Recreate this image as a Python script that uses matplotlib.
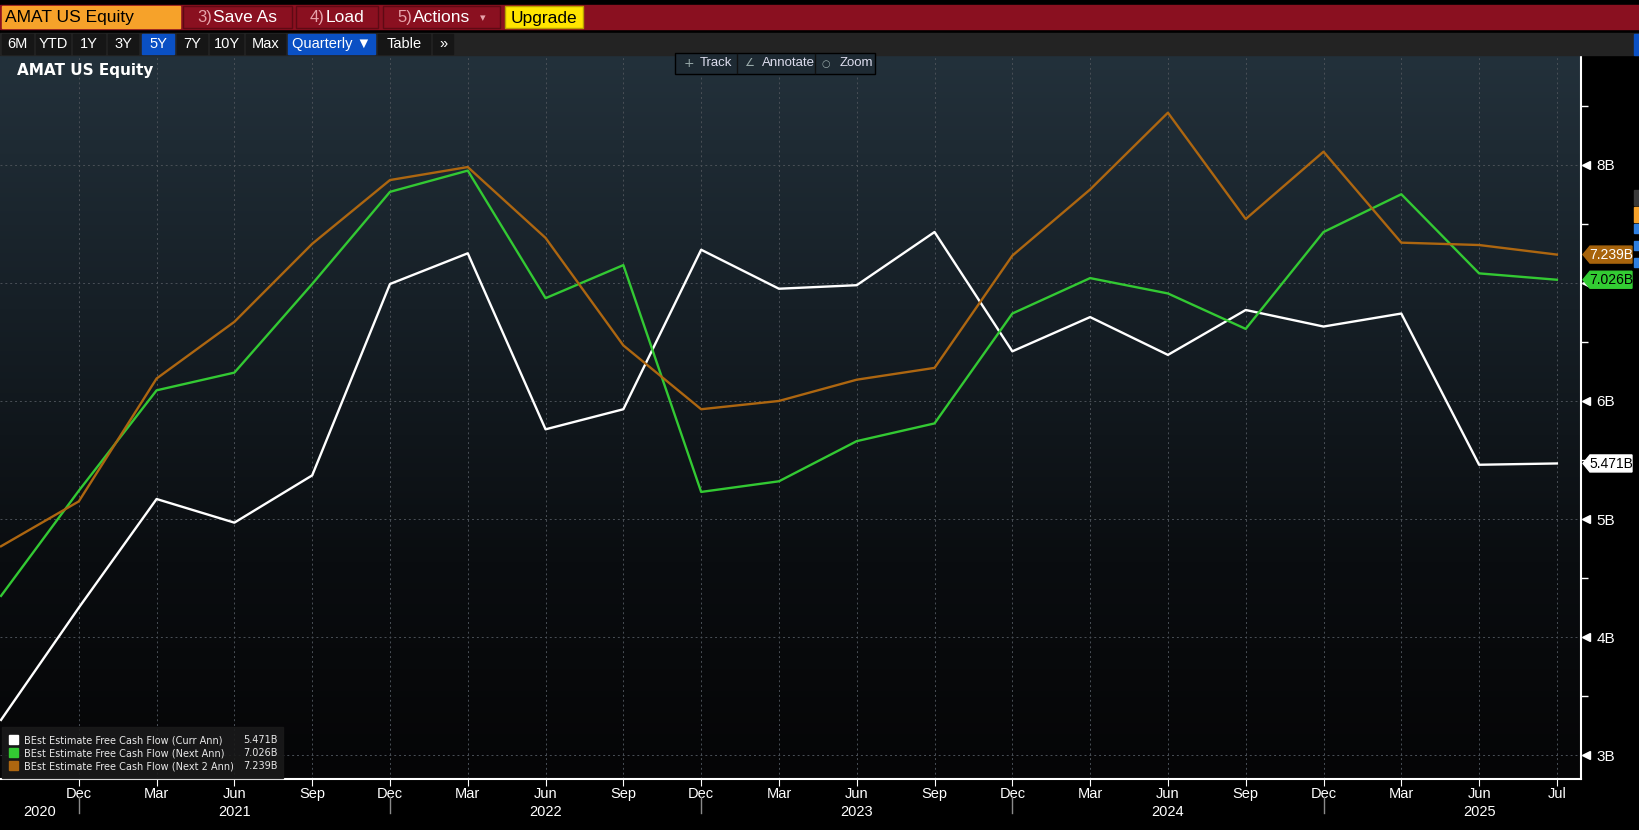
import numpy as np
import matplotlib
matplotlib.use('Agg')
import matplotlib.pyplot as plt
from matplotlib.colors import LinearSegmentedColormap
from matplotlib.patches import Rectangle, Polygon
from matplotlib.lines import Line2D
from matplotlib import transforms as mtransforms

plt.rcParams['font.family'] = ['Liberation Sans', 'DejaVu Sans']

# quarterly points, Sep 2020 .. Jul 2025 (equally spaced like the terminal)
quarters = ['Sep', 'Dec', 'Mar', 'Jun', 'Sep', 'Dec', 'Mar', 'Jun', 'Sep', 'Dec', 'Mar',
            'Jun', 'Sep', 'Dec', 'Mar', 'Jun', 'Sep', 'Dec', 'Mar', 'Jun', 'Jul']
years = ['2020', '2021', '2022', '2023', '2024', '2025']
year_pos = [0.5, 3, 7, 11, 15, 19]
year_breaks = [1, 5, 9, 13, 17]

# BEst Estimate Free Cash Flow, in billions
curr_ann = [3.30, 4.25, 5.17, 4.97, 5.37, 6.99, 7.25, 5.76, 5.93, 7.28, 6.95,
            6.98, 7.43, 6.42, 6.71, 6.39, 6.77, 6.63, 6.74, 5.46, 5.471]
next_ann = [4.35, 5.24, 6.09, 6.24, 6.99, 7.77, 7.95, 6.87, 7.15, 5.23, 5.32,
            5.66, 5.81, 6.74, 7.04, 6.91, 6.61, 7.43, 7.75, 7.08, 7.026]
next2_ann = [4.77, 5.15, 6.19, 6.67, 7.33, 7.87, 7.98, 7.38, 6.47, 5.93, 6.00,
             6.18, 6.28, 7.23, 7.79, 8.44, 7.54, 8.11, 7.34, 7.32, 7.239]

series = [curr_ann, next_ann, next2_ann]
series_names = ['BEst Estimate Free Cash Flow (Curr Ann)',
                'BEst Estimate Free Cash Flow (Next Ann)',
                'BEst Estimate Free Cash Flow (Next 2 Ann)']
last_labels = ['5.471B', '7.026B', '7.239B']
line_colors = ['#ffffff', '#33c933', '#ad6610']
tag_colors = ['#ffffff', '#33cc33', '#a8640c']
tag_text = ['black', 'black', 'white']

y_ticks = [3, 4, 5, 6, 7, 8]
y_labels = ['3B', '4B', '5B', '6B', '', '8B']

W, H = 1639, 830
fig = plt.figure(figsize=(W / 100, H / 100), dpi=100, facecolor='black')
ax = fig.add_axes([0, 1 - 779 / H, 1581 / W, (779 - 56) / H])

xlim = (-0.013, 20.31)
ylim = (2.80, 8.92)

# background gradient
cmap = LinearSegmentedColormap.from_list(
    'bg', [(0, '#050506'), (0.3, '#0a0d10'), (0.65, '#161f26'), (1, '#23313b')])
grad = np.linspace(1, 0, 256)[:, None]
ax.imshow(grad, extent=[xlim[0], xlim[1], ylim[0], ylim[1]], origin='upper',
          aspect='auto', cmap=cmap, vmin=0, vmax=1, zorder=0)

x = np.arange(len(quarters))
for vals, c in zip(series, line_colors):
    ax.plot(x, vals, color=c, lw=1.7, zorder=3)

ax.set_xlim(*xlim)
ax.set_ylim(*ylim)

for s in ['top', 'left']:
    ax.spines[s].set_visible(False)
ax.spines['right'].set_color('white')
ax.spines['bottom'].set_color('white')
ax.spines['right'].set_linewidth(1.5)
ax.spines['bottom'].set_linewidth(1.5)

ax.set_xticks(x[1:])
ax.set_xticklabels(quarters[1:])
ax.tick_params(axis='x', colors='white', length=5, labelsize=10.5, pad=1)

ax.yaxis.tick_right()
ax.set_yticks(y_ticks)
ax.set_yticklabels(y_labels)
ax.set_yticks([3.5, 4.5, 5.5, 6.5, 7.5, 8.5], minor=True)
ax.tick_params(axis='y', which='major', colors='white', length=0, labelsize=11, pad=11)
ax.tick_params(axis='y', which='minor', colors='white', length=5, width=1)

ax.grid(True, which='major', color='#4a5057', linestyle=(0, (2, 3)), lw=0.7, zorder=1)

# little triangles on the y axis
tri = mtransforms.offset_copy(ax.get_yaxis_transform(), fig=fig, x=5, y=0, units='dots')
ax.plot([1] * len(y_ticks), y_ticks, marker='<', ms=5.5, color='white', ls='none',
        transform=tri, clip_on=False, zorder=5)

# year labels and separators
xt = ax.get_xaxis_transform()
for p, yr in zip(year_pos, years):
    ax.text(p, -0.046, yr, transform=xt, ha='center', va='center', color='white',
            fontsize=10.5)
for b in year_breaks:
    ax.add_line(Line2D([b, b], [-0.025, -0.047], transform=xt, color='#8a8a8a', lw=1,
                       clip_on=False))

# overlay in pixel coordinates for the terminal chrome
ov = fig.add_axes([0, 0, 1, 1], zorder=5)
ov.set_xlim(0, W)
ov.set_ylim(H, 0)
ov.axis('off')


def to_px(xv, yv):
    d = ax.transData.transform((xv, yv))
    return d[0], H - d[1]


# top red bar
ov.add_patch(Rectangle((0, 5), W, 24, color='#8a1020'))
ov.add_patch(Rectangle((2, 6), 178, 22, color='#f6a22a'))
ov.text(5, 17.5, 'AMAT US Equity', color='black', fontsize=12.5, va='center')
menu = [(183, 292, '3)', 'Save As'), (296, 378, '4)', 'Load'), (383, 500, '5)', 'Actions')]
for x0, x1, num, lab in menu:
    ov.add_patch(Rectangle((x0, 6), x1 - x0, 22, fc='#8a1020', ec='#5e0a14', lw=1))
    ov.text(x0 + 14, 17.5, num, color='#e6a3aa', fontsize=12, va='center')
    ov.text(x0 + 30, 17.5, lab, color='white', fontsize=12.5, va='center')
ov.text(480, 18, '\u25be', color='#e6a3aa', fontsize=8, va='center', family='DejaVu Sans')
ov.add_patch(Rectangle((505, 6), 78, 22, fc='#ffe500', ec='#b8a000', lw=1))
ov.text(544, 18, 'Upgrade', color='black', fontsize=12.5, va='center', ha='center')

# range buttons
ov.add_patch(Rectangle((0, 33), W, 22, color='#232323'))
buttons = [(2, 33, '6M', False), (36, 70, 'YTD', False), (73, 105, '1Y', False),
           (108, 138, '3Y', False), (142, 174, '5Y', True), (177, 207, '7Y', False),
           (210, 243, '10Y', False), (246, 285, 'Max', False),
           (288, 375, 'Quarterly \u25bc', True), (378, 430, 'Table', False),
           (433, 453, '\u00bb', False)]
for x0, x1, lab, act in buttons:
    ov.add_patch(Rectangle((x0, 34), x1 - x0, 20, color='#0a50c4' if act else '#161616'))
    ov.text((x0 + x1) / 2, 44, lab, color='white', fontsize=10.5, ha='center', va='center')
ov.add_patch(Rectangle((1634, 34), 5, 21, color='#0a50c4'))

# chart title and toolbar
ov.text(17, 70, 'AMAT US Equity', color='white', fontsize=11, weight='bold',
        va='center', family='DejaVu Sans')
ov.add_patch(Rectangle((675, 53), 200, 21, fc='#1e2a33', ec='black', lw=1))
for sx in [737, 815]:
    ov.plot([sx, sx], [54, 73], color='#111', lw=1)
ov.text(684, 63.5, '+', color='#9aa', fontsize=9, va='center', family='DejaVu Sans')
ov.text(700, 63.5, 'Track', color='#dde', fontsize=9.5, va='center')
ov.text(744, 63.5, '\u2220', color='#9aa', fontsize=8, va='center', family='DejaVu Sans')
ov.text(762, 63.5, 'Annotate', color='#dde', fontsize=9.5, va='center')
ov.text(821, 63.5, '\u25cb', color='#9aa', fontsize=7, va='center', family='DejaVu Sans')
ov.text(840, 63.5, 'Zoom', color='#dde', fontsize=9.5, va='center')

# last value tags on the right axis
for vals, lab, fc, tc in zip(series, last_labels, tag_colors, tag_text):
    _, py = to_px(x[-1], vals[-1])
    ov.add_patch(Polygon([(1583, py), (1590, py - 8.5), (1632, py - 8.5),
                          (1632, py + 8.5), (1590, py + 8.5)], closed=True, color=fc))
    ov.text(1611, py + 0.5, lab, color=tc, fontsize=10, ha='center', va='center')

# side strip stubs
ov.add_patch(Rectangle((1634, 190), 5, 15, color='#3a3a3a'))
ov.add_patch(Rectangle((1634, 207), 5, 15, color='#f6a22a'))
for by in [228, 245, 262]:
    ov.add_patch(Rectangle((1634, by - 4), 5, 9, color='#2e7fe0'))

# legend box
ov.add_patch(Rectangle((2, 727), 281, 51, color='#1a1a1a', alpha=0.9))
for i, (name, lab, c) in enumerate(zip(series_names, last_labels, line_colors)):
    ry = 740 + i * 13
    ov.add_patch(Rectangle((9, ry - 5), 9, 9, color=c))
    ov.text(24, ry, name, color='#e8e8e8', fontsize=7.0, va='center', family='DejaVu Sans')
    ov.text(278, ry, lab, color='#e8e8e8', fontsize=7.0, va='center', ha='right',
            family='DejaVu Sans')

fig.savefig('out.png', dpi=100, facecolor='black')
